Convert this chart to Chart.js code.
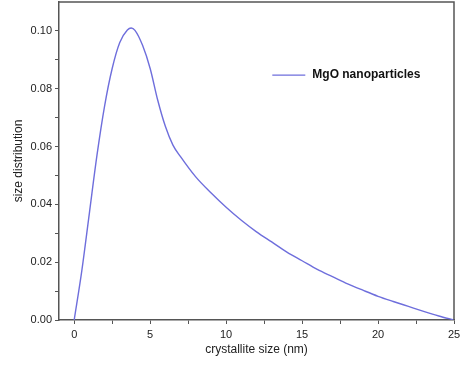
<!DOCTYPE html>
<html>
<head>
<meta charset="utf-8">
<script src="https://cdn.jsdelivr.net/npm/chart.js@4.4.1/dist/chart.umd.min.js"></script>
<style>
  html, body { margin: 0; padding: 0; background: #fff; }
  #wrap { width: 474px; height: 367px; }
</style>
</head>
<body>
<div id="wrap"><canvas id="chart1" width="474" height="367"></canvas></div>
<script>
// crystallite size (nm) and size distribution
const sizes = [0, 0.5, 1, 1.5, 2, 2.5, 3, 3.5, 3.75, 4, 4.5, 5, 5.5, 6, 6.5, 7, 8, 9, 10, 11, 12, 13, 14, 15, 16, 17, 18, 19, 20, 21, 22, 23, 24, 25];
const dist  = [0, 0.017, 0.037, 0.057, 0.074, 0.087, 0.096, 0.1003, 0.101, 0.1002, 0.095, 0.087, 0.076, 0.067, 0.0605, 0.0565, 0.0495, 0.044, 0.039, 0.0345, 0.0305, 0.027, 0.0235, 0.0205, 0.0175, 0.015, 0.0125, 0.0103, 0.0082, 0.0064, 0.0047, 0.003, 0.0014, 0];
const xTicks = [0, 2.5, 5, 7.5, 10, 12.5, 15, 17.5, 20, 22.5, 25];
const yTicks = [0, 0.01, 0.02, 0.03, 0.04, 0.05, 0.06, 0.07, 0.08, 0.09, 0.10];
const seriesName = 'MgO nanoparticles';

const FONT = '"Liberation Sans", Arial, sans-serif';
const LINE = '#6e6edc';
const AXIS = '#555';

// right + top frame lines and the legend drawn inside the plot
const frame = {
  id: 'frame',
  afterDraw(c){
    const {ctx, chartArea:a} = c;
    ctx.save();
    ctx.strokeStyle = AXIS;
    ctx.lineWidth = 1.5;
    ctx.beginPath();
    ctx.moveTo(a.left, a.top); ctx.lineTo(a.right, a.top); ctx.lineTo(a.right, a.bottom);
    ctx.stroke();
    // legend
    const lx = a.left + (a.right - a.left) * 0.54;
    const ly = a.top + (a.bottom - a.top) * 0.23;
    ctx.strokeStyle = LINE;
    ctx.lineWidth = 1.3;
    ctx.beginPath(); ctx.moveTo(lx, ly); ctx.lineTo(lx + 33, ly); ctx.stroke();
    ctx.fillStyle = '#111';
    ctx.font = 'bold 12px ' + FONT;
    ctx.textBaseline = 'middle';
    ctx.fillText(seriesName, lx + 40, ly);
    ctx.restore();
  }
};

new Chart(document.getElementById('chart1'), {
  type: 'line',
  data: {
    datasets: [{
      label: seriesName,
      data: sizes.map((x, i) => ({x, y: dist[i]})),
      borderColor: LINE,
      borderWidth: 1.4,
      pointRadius: 0,
      cubicInterpolationMode: 'monotone',
      fill: false
    }]
  },
  options: {
    responsive: false,
    animation: false,
    layout: { padding: { top: 2, right: 20, bottom: 0, left: 0 } },
    plugins: { legend: { display: false }, tooltip: { enabled: false } },
    scales: {
      x: {
        type: 'linear', min: -1, max: 25,
        afterBuildTicks: s => { s.ticks = xTicks.map(v => ({value: v})); },
        afterFit: s => { s.height = 47; s.paddingLeft = 0; },
        grid: { drawOnChartArea: false, tickLength: 4, color: AXIS, lineWidth: 1 },
        border: { color: AXIS, width: 1.5 },
        ticks: {
          color: '#222', font: { family: FONT, size: 11 }, padding: 4, maxRotation: 0,
          callback: v => (v % 5 === 0 ? String(v) : '')
        },
        title: { display: true, text: 'crystallite size (nm)', color: '#222', font: { family: FONT, size: 12 }, padding: { top: 2, bottom: 10 } }
      },
      y: {
        type: 'linear', min: 0, max: 0.11,
        afterBuildTicks: s => { s.ticks = yTicks.map(v => ({value: v})); },
        afterFit: s => { s.width = 59; s.paddingTop = 0; s.paddingBottom = 0; },
        grid: { drawOnChartArea: false, tickLength: 4, color: AXIS, lineWidth: 1 },
        border: { color: AXIS, width: 1.5 },
        ticks: {
          color: '#222', font: { family: FONT, size: 11 }, padding: 3,
          callback: v => (Math.round(v * 100) % 2 === 0 ? v.toFixed(2) : '')
        },
        title: { display: true, text: 'size distribution', color: '#222', font: { family: FONT, size: 12 }, padding: { top: 11, bottom: 0 } }
      }
    }
  },
  plugins: [frame]
});
</script>
</body>
</html>
